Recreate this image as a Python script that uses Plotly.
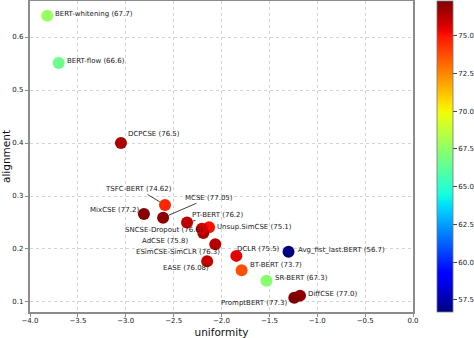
import numpy as np
import plotly.graph_objects as go

# ---------------- data ----------------
methods = [
    "BERT-whitening", "BERT-flow", "DCPCSE", "TSFC-BERT", "MixCSE", "MCSE",
    "PT-BERT", "Unsup.SimCSE", "SNCSE-Dropout", "AdCSE", "ESimCSE-SimCLR",
    "EASE", "DCLR", "BT-BERT", "Avg_fist_last.BERT", "SR-BERT", "DiffCSE",
    "PromptBERT",
]
score_labels = [
    "67.7", "66.6", "76.5", "74.62", "77.2", "77.05",
    "76.2", "75.1", "76.6", "75.8", "76.3",
    "76.08", "75.5", "73.7", "56.7", "67.3", "77.0",
    "77.3",
]
scores = [float(s) for s in score_labels]
uniformity = [
    -3.82, -3.70, -3.05, -2.59, -2.81, -2.61,
    -2.36, -2.13, -2.19, -2.205, -2.065,
    -2.15, -1.845, -1.79, -1.30, -1.53, -1.18,
    -1.24,
]
alignment = [
    0.640, 0.551, 0.400, 0.283, 0.266, 0.259,
    0.250, 0.241, 0.230, 0.238, 0.209,
    0.177, 0.187, 0.160, 0.195, 0.140, 0.112,
    0.108,
]

# ---------------- label placement (pixels, styling only) ----------------
# (anchor, dx, dy, arrow)  dy positive = down on screen
label_pos = {
    "BERT-whitening": ("left", 6, -1.7, False),
    "BERT-flow": ("left", 6, -1.7, False),
    "DCPCSE": ("left", 5.3, -9.4, False),
    "TSFC-BERT": ("center", -26.6, -16, True),
    "MixCSE": ("right", -3.3, -4.3, False),
    "MCSE": ("center", 46, -20, True),
    "PT-BERT": ("center", 31, -7.6, True),
    "Unsup.SimCSE": ("left", 5.7, -0.6, False),
    "SNCSE-Dropout": ("left", -80, -3.3, False),
    "AdCSE": ("right", -11.5, 11.7, False),
    "ESimCSE-SimCLR": ("right", 6.7, 7.7, False),
    "EASE": ("right", 4, 7.3, False),
    "DCLR": ("left", -1, -7.3, False),
    "BT-BERT": ("left", 6.4, -4.7, False),
    "Avg_fist_last.BERT": ("left", 7.4, -1.4, False),
    "SR-BERT": ("left", 6.3, -2.7, False),
    "DiffCSE": ("left", 5.7, -1.8, False),
    "PromptBERT": ("right", -4, 4.8, False),
}

# matplotlib 'jet' colormap
def jet_scale(n=64):
    t = np.linspace(0, 1, n)
    r = np.interp(t, [0, 0.35, 0.66, 0.89, 1], [0, 0, 1, 1, 0.5])
    g = np.interp(t, [0, 0.125, 0.375, 0.64, 0.91, 1], [0, 0, 1, 1, 0, 0])
    b = np.interp(t, [0, 0.11, 0.34, 0.65, 1], [0.5, 1, 1, 0, 0])
    return [[float(ti), f"rgb({int(ri*255)},{int(gi*255)},{int(bi*255)})"]
            for ti, ri, gi, bi in zip(t, r, g, b)]

FONT = "DejaVu Sans"
AXC = "#8c8c8c"

fig = go.Figure()
fig.add_trace(go.Scatter(
    x=uniformity, y=alignment, mode="markers",
    marker=dict(
        size=12, color=scores, colorscale=jet_scale(),
        cmin=min(scores), cmax=max(scores), line=dict(width=0),
        showscale=True,
        colorbar=dict(
            x=1.062, xanchor="left", xpad=0, ypad=0,
            y=0.5, yanchor="middle", len=1, lenmode="fraction",
            thickness=15.5, thicknessmode="pixels",
            outlinewidth=0.8, outlinecolor="#777",
            tick0=57.5, dtick=2.5, tickformat=".1f",
            ticks="outside", ticklen=4, tickcolor="#444",
            tickfont=dict(family=FONT, size=7, color="#222"),
        ),
    ),
    hoverinfo="skip", showlegend=False,
))

annotations = []
for m, s, ux, al in zip(methods, score_labels, uniformity, alignment):
    anchor, dx, dy, arrow = label_pos[m]
    text = f"{m} ({s})"
    if arrow:
        annotations.append(dict(
            x=ux, y=al, xref="x", yref="y", text=text, showarrow=True,
            ax=dx, ay=dy, arrowhead=0, arrowwidth=0.8, arrowcolor="#111",
            standoff=6, font=dict(family=FONT, size=7, color="#1a1a1a"),
        ))
    else:
        annotations.append(dict(
            x=ux, y=al, xref="x", yref="y", text=text, showarrow=False,
            xanchor=anchor, yanchor="middle", xshift=dx, yshift=-dy,
            font=dict(family=FONT, size=7, color="#1a1a1a"),
        ))

axis_common = dict(
    showline=True, linecolor=AXC, linewidth=1.5, mirror=True,
    ticks="outside", ticklen=3.5, tickcolor=AXC, tickwidth=1,
    showgrid=True, gridcolor="#d4d4d4", gridwidth=0.8, griddash="dot",
    zeroline=False, tickformat=".1f",
    tickfont=dict(family=FONT, size=7, color="#222"),
)

fig.update_layout(
    width=474, height=338,
    margin=dict(l=30, r=61, t=1, b=26, autoexpand=False),
    paper_bgcolor="white", plot_bgcolor="white",
    font=dict(family=FONT),
    annotations=annotations,
    xaxis=dict(range=[-4, 0], tick0=-4, dtick=0.5, ticklabelstandoff=-3,
               title=dict(text="uniformity", standoff=5,
                          font=dict(family=FONT, size=10.5, color="#111")),
               **axis_common),
    yaxis=dict(range=[0.0811, 0.668], tick0=0.1, dtick=0.1,
               title=dict(text="alignment", standoff=2,
                          font=dict(family=FONT, size=10.5, color="#111")),
               **axis_common),
)

fig.write_html("out.html")
